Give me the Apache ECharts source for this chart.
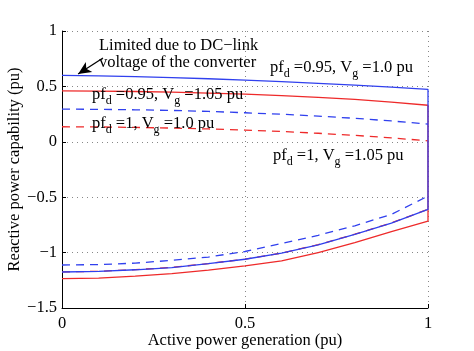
<!DOCTYPE html>
<html>
<head>
<meta charset="utf-8">
<script src="https://cdn.jsdelivr.net/npm/echarts@6/dist/echarts.min.js"></script>
<style>
  html, body { margin: 0; padding: 0; background: #fff; }
  #chart { width: 474px; height: 351px; }
</style>
</head>
<body>
<div id="chart"></div>
<script>
// x positions (active power, pu)
const xs = [0, 0.1, 0.2, 0.3, 0.4, 0.5, 0.6, 0.7, 0.8, 0.9, 1];

// upper limits (reactive power, pu)
const blueSolidUp = [0.6, 0.595, 0.588, 0.579, 0.569, 0.557, 0.544, 0.528, 0.511, 0.493, 0.473];
const redSolidUp = [0.46, 0.458, 0.454, 0.448, 0.44, 0.43, 0.417, 0.401, 0.382, 0.358, 0.33];
const blueDashUp = [0.295, 0.293, 0.289, 0.283, 0.274, 0.262, 0.249, 0.232, 0.212, 0.188, 0.16];
const redDashUp = [0.136, 0.134, 0.13, 0.124, 0.116, 0.106, 0.093, 0.077, 0.058, 0.035, 0.009];

// lower limits
const blueSolidLow = [-1.175, -1.17, -1.155, -1.135, -1.1, -1.06, -1.005, -0.93, -0.835, -0.733, -0.61];
const redSolidLow = [-1.235, -1.23, -1.213, -1.19, -1.158, -1.12, -1.075, -1.0, -0.91, -0.81, -0.715];
const blueDashLow = [-1.112, -1.108, -1.095, -1.07, -1.04, -0.99, -0.918, -0.844, -0.758, -0.655, -0.49];
const redDashLow = [-1.174, -1.169, -1.154, -1.134, -1.099, -1.059, -1.004, -0.929, -0.834, -0.732, -0.61];

const xTicks = ['0', '0.5', '1'];
const yTicks = ['-1.5', '-1', '-0.5', '0', '0.5', '1'];

// arrow annotation, data coords [tail, tip]
const arrowPts = [[0.112, 0.756], [0.044, 0.612]];

const BLUE = '#3040ee';
const RED = '#ee2a2a';
const FONT = 'Liberation Serif';

function pairs(ys) { return xs.map((x, i) => [x, ys[i]]); }
// upper curve left->right, then down the right edge and back along lower curve
function loop(up, low) { return pairs(up).concat(pairs(low).reverse()); }

const chart = echarts.init(document.getElementById('chart'));

function lbl(pf, vg) {
  return '{n|pf}{s|d}{n| =' + pf + ', V}{s|g}{n| =' + vg + ' pu}';
}
const rich = {
  n: { fontFamily: FONT, fontSize: 16.5, lineHeight: 18, color: '#000' },
  s: { fontFamily: FONT, fontSize: 12, lineHeight: 12, padding: [12, 0, 0, 0], color: '#000' }
};
function label(x, y, text) {
  return { type: 'text', x: x, y: y, z: 100,
    style: { text: text, rich: rich, verticalAlign: 'middle', align: 'left' } };
}

chart.setOption({
  animation: false,
  grid: { left: 62, right: 46, top: 31, bottom: 43, outerBoundsMode: 'none', containLabel: false },
  xAxis: {
    type: 'value', min: 0, max: 1, interval: 0.5,
    name: 'Active power generation (pu)', nameLocation: 'middle', nameGap: 24,
    nameMoveOverlap: false,
    nameTextStyle: { fontFamily: FONT, fontSize: 16.5, color: '#000' },
    axisLine: { onZero: false, lineStyle: { color: '#000', width: 1 } },
    axisTick: { inside: true, length: 4, lineStyle: { color: '#000' } },
    axisLabel: { margin: 7, fontFamily: FONT, fontSize: 16.5, color: '#000',
      formatter: v => xTicks[Math.round(v / 0.5)] },
    splitLine: { show: true, lineStyle: { color: '#888', type: [1, 4] } }
  },
  yAxis: {
    type: 'value', min: -1.5, max: 1, interval: 0.5,
    name: 'Reactive power capability (pu)', nameLocation: 'middle', nameGap: 39,
    nameMoveOverlap: false,
    nameTextStyle: { fontFamily: FONT, fontSize: 16.5, color: '#000' },
    axisLine: { show: true, onZero: false, lineStyle: { color: '#000', width: 1 } },
    axisTick: { show: true, inside: true, length: 4, lineStyle: { color: '#000' } },
    axisLabel: { margin: 5, fontFamily: FONT, fontSize: 16.5, color: '#000',
      formatter: v => yTicks[Math.round((v + 1.5) / 0.5)].replace('-', '\u2212') },
    splitLine: { show: true, lineStyle: { color: '#888', type: [1, 4] } }
  },
  series: [
    { type: 'line', data: loop(redSolidUp, redSolidLow), symbol: 'none',
      lineStyle: { color: RED, width: 1.3 } },
    { type: 'line', data: pairs(redDashUp), symbol: 'none',
      lineStyle: { color: RED, width: 1.3, type: [8, 6] } },
    { type: 'line', data: pairs(redDashLow), symbol: 'none',
      lineStyle: { color: RED, width: 1.3, type: [8, 6] } },
    { type: 'line', data: pairs(blueDashUp), symbol: 'none',
      lineStyle: { color: BLUE, width: 1.3, type: [8, 6] } },
    { type: 'line', data: pairs(blueDashLow), symbol: 'none',
      lineStyle: { color: BLUE, width: 1.3, type: [8, 6] } },
    { type: 'line', data: loop(blueSolidUp, blueSolidLow), symbol: 'none',
      lineStyle: { color: BLUE, width: 1.3 },
      markLine: {
        silent: true, symbol: ['none', 'arrow'], symbolSize: [9, 13],
        label: { show: false },
        lineStyle: { color: '#000', width: 1.3, type: 'solid' },
        data: [[{ coord: arrowPts[0] }, { coord: arrowPts[1] }]]
      } }
  ],
  graphic: [
    { type: 'text', x: 99, y: 37, z: 100,
      style: { text: 'Limited due to DC\u2212link\nvoltage of the converter',
        fontFamily: FONT, fontSize: 16.5, lineHeight: 17, fill: '#000', align: 'left' } },
    label(270, 68, lbl('0.95', '1.0')),
    label(92, 95, lbl('0.95', '1.05')),
    label(92, 124, lbl('1', '1.0')),
    label(273, 156, lbl('1', '1.05'))
  ]
});
</script>
</body>
</html>
